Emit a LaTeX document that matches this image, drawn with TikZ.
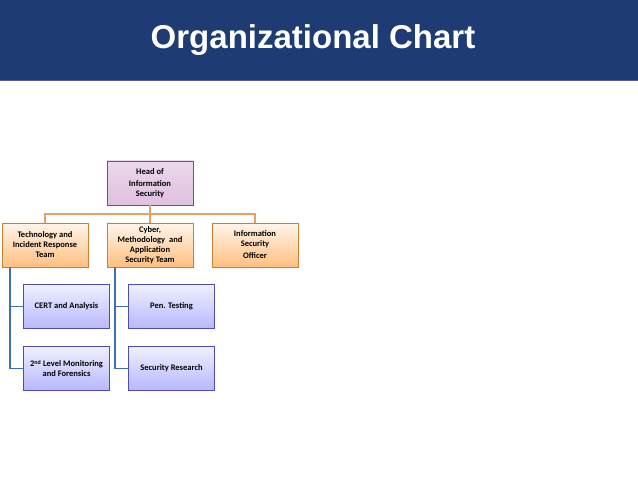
\documentclass[tikz,border=0pt]{standalone}
\usepackage{fontspec}
\setmainfont{Carlito}
\newfontfamily\titlefont{Liberation Sans}
\definecolor{banner}{HTML}{1E3B73}
\definecolor{orl}{HTML}{E8A060}
\definecolor{bll}{HTML}{3F6FB0}
\tikzset{
 box/.style={draw=#1, line width=0.4pt, minimum width=86pt, minimum height=44pt, align=center, font=\bfseries\fontsize{8.5}{10}\selectfont, inner sep=1pt},
 purp/.style={box=violet!40!gray, top color=white!85!violet, bottom color=violet!25},
 oran/.style={box=orange!60!gray, top color=orange!8, bottom color=orange!50},
 blu/.style={box=blue!40!gray, top color=blue!6, bottom color=blue!28},
 oline/.style={draw=orl, line width=1.6pt},
 bline/.style={draw=bll, line width=1.6pt},
}
\begin{document}
\begin{tikzpicture}[x=1pt,y=-1pt]
\useasboundingbox (0,0) rectangle (638,478);
\fill[banner] (0,0) rectangle (638,80);
\draw[blue!30!gray, line width=1pt] (0,81) -- (638,81);
\node (title) at (313,40) {\titlefont\bfseries\fontsize{33}{38}\selectfont\color{white} Organizational Chart};
\node[purp] (head) at (150,183) {Head of\\[2pt] Information\\ Security};
\node[oran] (tech) at (45,245) {Technology and\\ Incident Response\\ Team};
\node[oran] (cyber) at (150,245) {Cyber,\\ Methodology~ and\\ Application\\ Security Team};
\node[oran] (iso) at (255,245) {Information\\ Security\\[2pt] Officer};
\node[blu] (cert) at (66.5,306.5) {CERT and Analysis};
\node[blu] (mon) at (66.5,368.5) {2\textsuperscript{nd} Level Monitoring\\ and Forensics};
\node[blu] (pen) at (171.5,306.5) {Pen. Testing};
\node[blu] (res) at (171.5,368.5) {Security Research};
\coordinate (bar) at (150,214);
\draw[oline] (head.south) -- (bar);
\draw[oline] (tech.north) |- (bar) -| (iso.north);
\draw[oline] (bar) -- (cyber.north);
\draw[bline] ([xshift=8pt]tech.south west) |- (cert.west);
\draw[bline] ([xshift=8pt]tech.south west) |- (mon.west);
\draw[bline] ([xshift=8pt]cyber.south west) |- (pen.west);
\draw[bline] ([xshift=8pt]cyber.south west) |- (res.west);
\end{tikzpicture}
\end{document}
